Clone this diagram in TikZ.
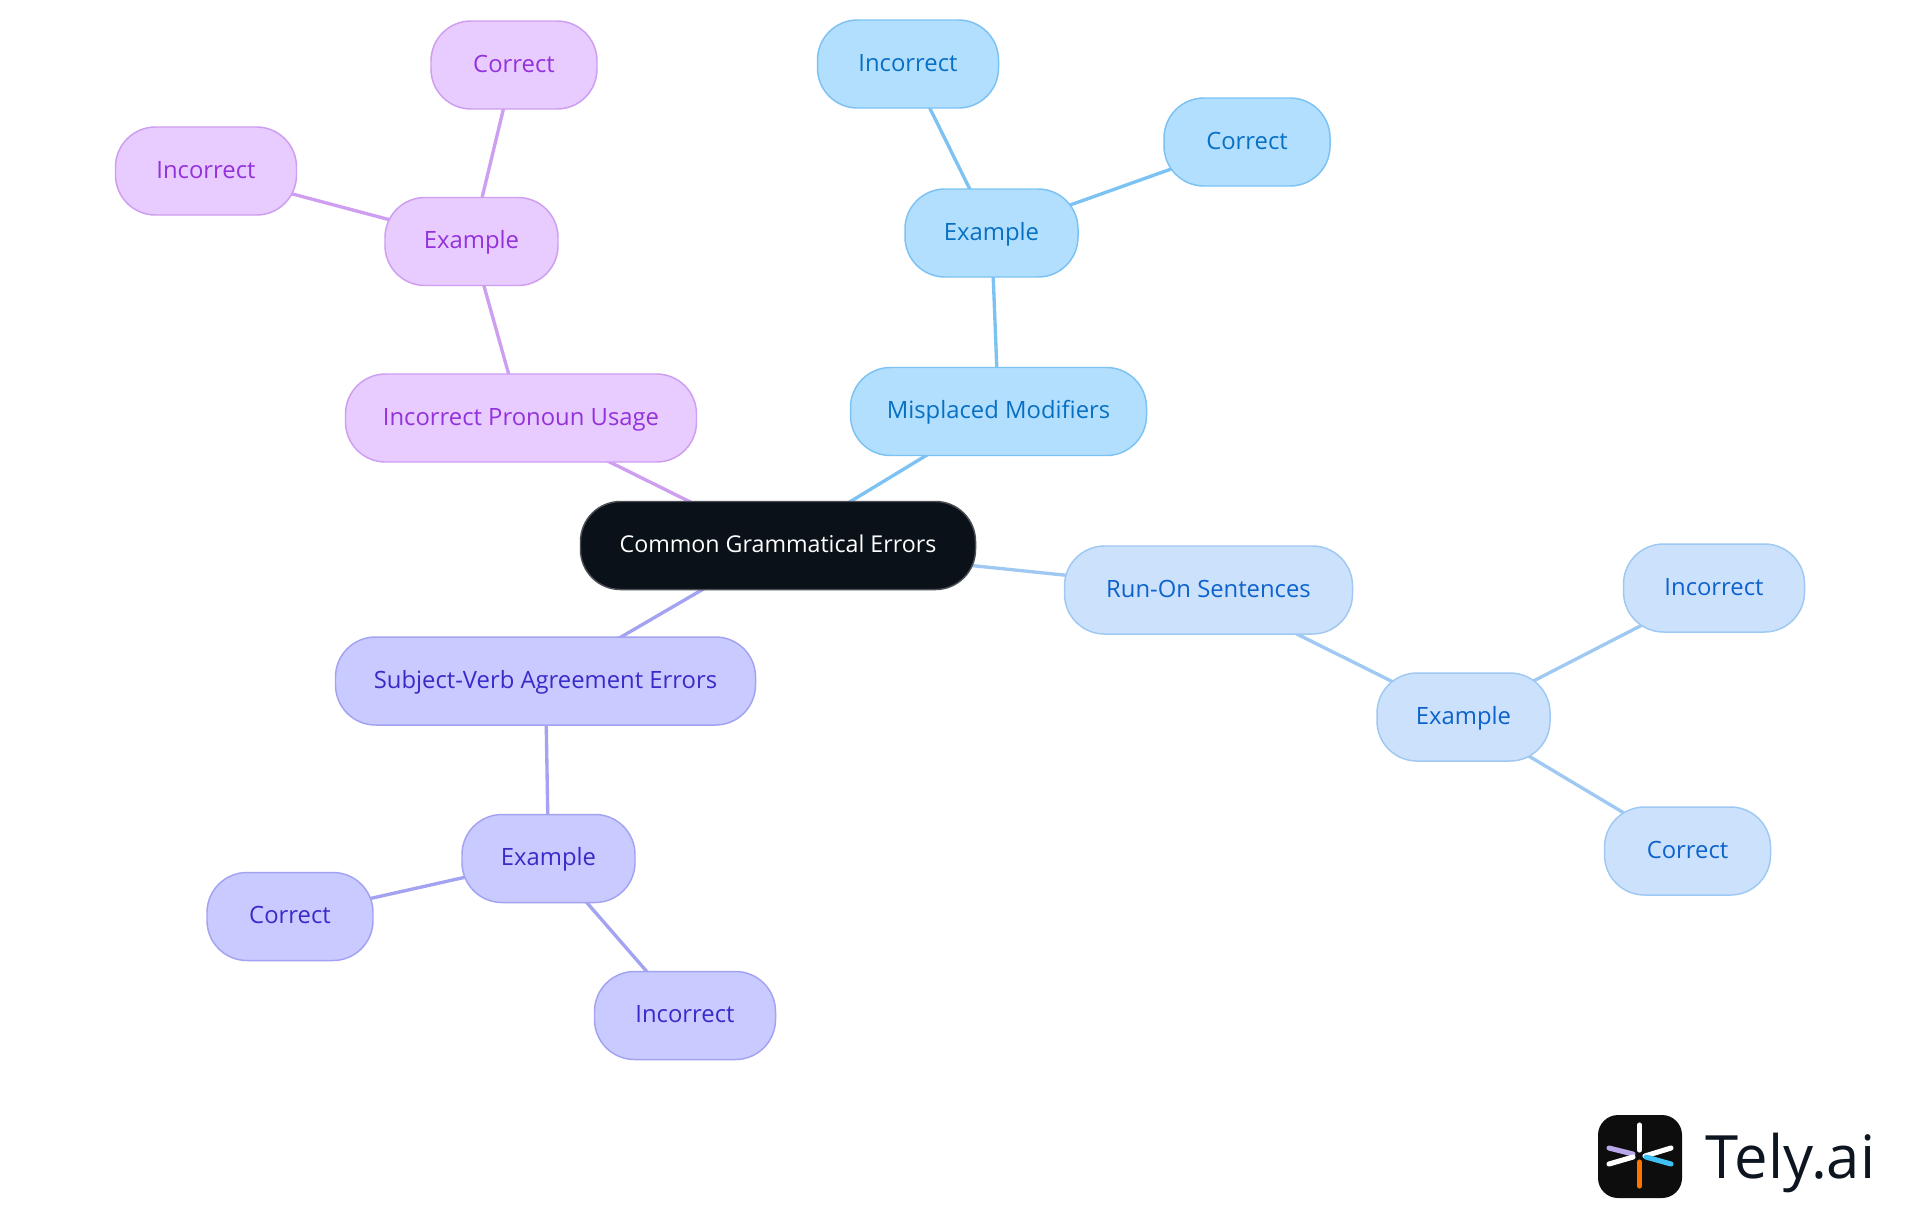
\documentclass[tikz,border=0pt]{standalone}
\usepackage{fontspec}
\setmainfont{Open Sans}
\usetikzlibrary{backgrounds,calc}

\definecolor{rootfill}{HTML}{0B1119}
\definecolor{rootline}{HTML}{4A4E54}
\definecolor{purplefill}{HTML}{E8CBFF}
\definecolor{purpleline}{HTML}{CE9EF1}
\definecolor{purpletext}{HTML}{9332DB}
\definecolor{skyfill}{HTML}{B3DFFF}
\definecolor{skyline}{HTML}{7CC2F2}
\definecolor{skytext}{HTML}{0870C2}
\definecolor{bluefill}{HTML}{CCE2FC}
\definecolor{blueline}{HTML}{9FC9F2}
\definecolor{bluetext}{HTML}{0D62CC}
\definecolor{violetfill}{HTML}{C9CAFF}
\definecolor{violetline}{HTML}{A3A3F2}
\definecolor{violettext}{HTML}{3A2BC8}
\definecolor{logotext}{HTML}{0D1520}

\tikzset{
  mapnode/.style={rectangle,rounded corners=0.4cm,minimum height=0.88cm,inner sep=0pt,
    text height=0.23cm,text depth=0.082cm,
    line width=0.42pt,font=\fontsize{6.78}{8}\selectfont},
  rootnode/.style={mapnode,fill=rootfill,draw=rootline,text=white,font=\fontsize{6.6}{8}\selectfont},
  purplenode/.style={mapnode,fill=purplefill,draw=purpleline,text=purpletext},
  skynode/.style={mapnode,fill=skyfill,draw=skyline,text=skytext},
  bluenode/.style={mapnode,fill=bluefill,draw=blueline,text=bluetext},
  violetnode/.style={mapnode,fill=violetfill,draw=violetline,text=violettext},
  link/.style={line width=0.95pt},
  spoke/.style={line width=1.45pt,line cap=round}
}

\begin{document}
\begin{tikzpicture}[y=-1cm]
  \useasboundingbox (0,0) rectangle (19.2,12.15);
% Central topic
  \node[rootnode,minimum width=3.95cm] (root) at (7.78,5.455) {Common Grammatical Errors};
% Pronoun branch
  \node[purplenode,minimum width=3.51cm] (pronoun) at (5.21,4.18) {Incorrect Pronoun Usage};
  \node[purplenode,minimum width=1.73cm] (pronounex) at (4.715,2.415) {Example};
  \node[purplenode,minimum width=1.66cm] (pronouncor) at (5.14,0.65) {Correct};
  \node[purplenode,minimum width=1.81cm] (pronouninc) at (2.06,1.71) {Incorrect};
% Modifier branch
  \node[skynode,minimum width=2.96cm] (modifier) at (9.985,4.115) {Misplaced Modifiers};
  \node[skynode,minimum width=1.73cm] (modifierex) at (9.915,2.33) {Example};
  \node[skynode,minimum width=1.81cm] (modifierinc) at (9.08,0.64) {Incorrect};
  \node[skynode,minimum width=1.66cm] (modifiercor) at (12.47,1.42) {Correct};
% Run-on branch
  \node[bluenode,minimum width=2.88cm] (runon) at (12.085,5.9) {Run-On Sentences};
  \node[bluenode,minimum width=1.73cm] (runonex) at (14.635,7.17) {Example};
  \node[bluenode,minimum width=1.81cm] (runoninc) at (17.14,5.88) {Incorrect};
  \node[bluenode,minimum width=1.66cm] (runoncor) at (16.875,8.51) {Correct};
% Agreement branch
  \node[violetnode,minimum width=4.2cm] (agree) at (5.455,6.81) {Subject-Verb Agreement Errors};
  \node[violetnode,minimum width=1.73cm] (agreeex) at (5.485,8.585) {Example};
  \node[violetnode,minimum width=1.66cm] (agreecor) at (2.9,9.165) {Correct};
  \node[violetnode,minimum width=1.81cm] (agreeinc) at (6.85,10.155) {Incorrect};
% Links run behind the nodes
  \begin{scope}[on background layer]
    \fill[white] (0,0) rectangle (19.2,12.15);
    \draw[link,purpleline] (root.center) -- (pronoun.center);
    \draw[link,purpleline] (pronoun.center) -- (pronounex.center);
    \draw[link,purpleline] (pronounex.center) -- (pronouncor.center);
    \draw[link,purpleline] (pronounex.center) -- (pronouninc.center);
    \draw[link,skyline] (root.center) -- (modifier.center);
    \draw[link,skyline] (modifier.center) -- (modifierex.center);
    \draw[link,skyline] (modifierex.center) -- (modifierinc.center);
    \draw[link,skyline] (modifierex.center) -- (modifiercor.center);
    \draw[link,blueline] (root.center) -- (runon.center);
    \draw[link,blueline] (runon.center) -- (runonex.center);
    \draw[link,blueline] (runonex.center) -- (runoninc.center);
    \draw[link,blueline] (runonex.center) -- (runoncor.center);
    \draw[link,violetline] (root.center) -- (agree.center);
    \draw[link,violetline] (agree.center) -- (agreeex.center);
    \draw[link,violetline] (agreeex.center) -- (agreecor.center);
    \draw[link,violetline] (agreeex.center) -- (agreeinc.center);
  \end{scope}
% Logo tile
  \fill[black!95,rounded corners=0.2cm] (15.98,11.15) rectangle (16.82,11.98);
% Logo spokes
  \draw[spoke,white] (16.395,11.25) -- (16.395,11.5);
  \draw[spoke,orange!90!red] (16.395,11.62) -- (16.395,11.86);
  \draw[spoke,purple!30!blue!35!white] (16.09,11.48) -- (16.33,11.54);
  \draw[spoke,white] (16.71,11.48) -- (16.45,11.56);
  \draw[spoke,white] (16.09,11.64) -- (16.33,11.57);
  \draw[spoke,cyan!75!white] (16.71,11.64) -- (16.46,11.57);
% Logo wordmark
  \node[anchor=base west,inner sep=0pt,text=logotext,font=\fontsize{17}{20}\selectfont] (wordmark) at (17.05,11.78) {Tely.ai};
\end{tikzpicture}
\end{document}
